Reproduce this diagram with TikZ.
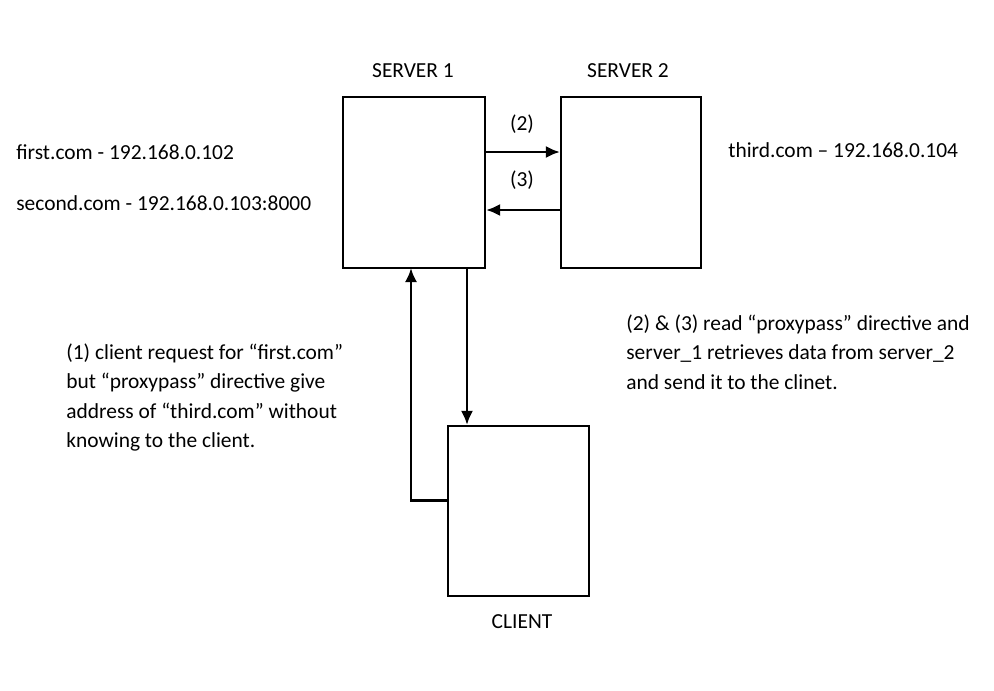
\documentclass[tikz,border=0pt]{standalone}
\usepackage{fontspec}
\setmainfont{Carlito}
\usetikzlibrary{arrows.meta}
\begin{document}
\begin{tikzpicture}[x=0.02cm,y=-0.02cm,
  box/.style={draw,line width=1.2pt,inner sep=0pt},
  lbl/.style={font=\fontsize{12.2pt}{0.59cm}\selectfont,inner sep=0pt},
  txt/.style={lbl,anchor=west,align=left},
  arr/.style={line width=1.7pt,-{Latex[length=8pt,width=7pt]}}]
\useasboundingbox (0,0) rectangle (994,690);
% boxes
\node[box,minimum width=142*0.02cm,minimum height=171*0.02cm] (s1) at (414,182.5) {};
\node[box,minimum width=140*0.02cm,minimum height=171*0.02cm] (s2) at (631,182.5) {};
\node[box,minimum width=141*0.02cm,minimum height=170*0.02cm] (c) at (518.5,511) {};
% titles
\node[lbl] (t1) at (413,71) {SERVER 1};
\node[lbl] (t2) at (628,71) {SERVER 2};
\node[lbl] (tc) at (522,622) {CLIENT};
\node[lbl] (l2) at (522,124) {(2)};
\node[lbl] (l3) at (522,180) {(3)};
% connectors
\draw[arr] (s1.east |- 0,152) -- (s2.west |- 0,152);
\draw[arr] (s2.west |- 0,210) -- (s1.east |- 0,210);
\draw[arr] (467,268) -- (c.north -| 467,0);
\coordinate (k) at (411,500);
\draw[arr] (c.west |- k) -- (k) -- (411,268);
% texts
\node[txt] (a1) at (16,152) {first.com - 192.168.0.102};
\node[txt] (a2) at (16,203) {second.com - 192.168.0.103:8000};
\node[txt] (a3) at (728,150) {third.com -- 192.168.0.104};
\node[txt,anchor=north west] (p1) at (66,343) {(1) client request for “first.com”\\but “proxypass” directive give\\address of “third.com” without\\knowing to the client.};
\node[txt,anchor=north west] (p2) at (626,314) {(2) \& (3) read “proxypass” directive and\\server\_1 retrieves data from server\_2\\and send it to the clinet.};
\end{tikzpicture}
\end{document}
